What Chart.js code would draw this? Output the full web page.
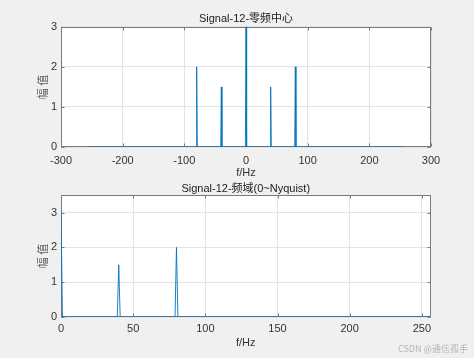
<!DOCTYPE html>
<html><head><meta charset="utf-8">
<script src="https://cdn.jsdelivr.net/npm/chart.js@4/dist/chart.umd.min.js"></script>
<style>
html,body{margin:0;padding:0;background:#f0f0f0;width:474px;height:358px;overflow:hidden;position:relative}
.c{position:absolute;left:0;width:474px}
#wm{position:absolute;right:6px;top:342px;font:9px 'Noto Sans CJK SC',sans-serif;color:#b5b5b5;white-space:nowrap}
</style></head><body>
<div class="c" style="top:0;height:180px"><canvas id="topChart" width="474" height="180"></canvas></div>
<div class="c" style="top:180px;height:178px"><canvas id="botChart" width="474" height="178"></canvas></div>
<div id="wm">CSDN @通信孤手</div>
<script>
// ---- data ----
const topFreqs = [-256, -81, -80, -79, -41, -40, -39, -1, 0, 1, 39, 40, 41, 79, 80, 81, 255];
const topAmps  = [0, 0, 2, 0, 0, 1.5, 0, 0, 3, 0, 0, 1.5, 0, 0, 2, 0, 0];
const topXTicks = [-300, -200, -100, 0, 100, 200, 300];
const topYTicks = [0, 1, 2, 3];

const botFreqs = [0, 1, 39, 40, 41, 79, 80, 81, 256];
const botAmps  = [3, 0, 0, 1.5, 0, 0, 2, 0, 0];
const botXTicks = [0, 50, 100, 150, 200, 250];
const botYTicks = [0, 1, 2, 3];

const topTitle = 'Signal-12-零频中心';
const botTitle = 'Signal-12-频域(0~Nyquist)';
const xLabel = 'f/Hz';
const yLabel = '幅 值';

// ---- rendering ----
const FONT = "'Liberation Sans', 'Noto Sans CJK SC', sans-serif";
const LINE = '#0072BD';
const TXT = '#333333';

const frame = {
  id: 'frame',
  beforeDraw(chart) {
    const {ctx, chartArea: a} = chart;
    ctx.save();
    ctx.fillStyle = '#ffffff';
    ctx.fillRect(a.left, a.top, a.width, a.height);
    ctx.restore();
  },
  beforeDatasetsDraw(chart) {
    const {ctx, chartArea: a, scales} = chart;
    ctx.save();
    ctx.strokeStyle = '#7a7a7a';
    ctx.lineWidth = 1;
    const L = Math.round(a.left) + 0.5, R = Math.round(a.right) - 0.5;
    const T = Math.round(a.top) + 0.5, B = Math.round(a.bottom) - 0.5;
    ctx.strokeRect(L, T, R - L, B - T);
    ctx.beginPath();
    scales.x.ticks.forEach(t => {
      const px = Math.round(scales.x.getPixelForValue(t.value)) + 0.5;
      ctx.moveTo(px, B); ctx.lineTo(px, B - 3);
      ctx.moveTo(px, T); ctx.lineTo(px, T + 3);
    });
    scales.y.ticks.forEach(t => {
      const py = Math.round(scales.y.getPixelForValue(t.value)) + 0.5;
      ctx.moveTo(L, py); ctx.lineTo(L + 3, py);
      ctx.moveTo(R, py); ctx.lineTo(R - 3, py);
    });
    ctx.stroke();
    ctx.restore();
  }
};

function makeChart(id, freqs, amps, xTicks, yTicks, xr, yr, title, g) {
  return new Chart(document.getElementById(id), {
    type: 'line',
    data: {
      datasets: [{
        data: freqs.map((f, i) => ({x: f, y: amps[i]})),
        borderColor: LINE,
        borderWidth: 0.9,
        pointRadius: 0,
        tension: 0,
        fill: false
      }]
    },
    options: {
      responsive: false,
      animation: false,
      devicePixelRatio: 1,
      layout: {padding: {left: 0, right: g.right, top: 0, bottom: 0}},
      plugins: {
        legend: {display: false},
        tooltip: {enabled: false},
        title: {
          display: true, text: title, color: '#1a1a1a',
          fullSize: false,
          font: {family: FONT, size: 11, weight: 'normal'},
          padding: {top: g.titleTop, bottom: g.titleBottom}
        }
      },
      scales: {
        x: {
          type: 'linear', min: xr[0], max: xr[1],
          afterBuildTicks: s => { s.ticks = xTicks.map(v => ({value: v})); },
          afterFit: s => { s.height = g.xH; },
          grid: {color: '#e3e3e3', drawTicks: false},
          border: {display: false},
          ticks: {color: TXT, font: {family: FONT, size: 11}, padding: g.xTickPad, maxRotation: 0, autoSkip: false},
          title: {display: true, text: xLabel, color: TXT, font: {family: FONT, size: 11}, padding: {top: 0, bottom: g.xTitlePad}}
        },
        y: {
          type: 'linear', min: yr[0], max: yr[1],
          afterBuildTicks: s => { s.ticks = yTicks.map(v => ({value: v})); },
          afterFit: s => { s.width = g.yW; },
          grid: {color: '#e3e3e3', drawTicks: false},
          border: {display: false},
          ticks: {color: TXT, font: {family: FONT, size: 11}, padding: 4},
          title: {display: true, text: yLabel, color: '#555', font: {family: "'Noto Sans CJK SC', sans-serif", size: 11}, padding: {top: 36, bottom: 0}}
        }
      }
    },
    plugins: [frame]
  });
}

makeChart('topChart', topFreqs, topAmps, topXTicks, topYTicks, [-300, 300], [0, 3], topTitle,
  {right: 43, titleTop: 12, titleBottom: 1.6, xH: 33, xTitlePad: 0, xTickPad: 7, yW: 61});
makeChart('botChart', botFreqs, botAmps, botXTicks, botYTicks, [0, 256], [0, 3.5], botTitle,
  {right: 43.5, titleTop: 2, titleBottom: 0, xH: 41, xTitlePad: 8, xTickPad: 5, yW: 61});
</script>
</body></html>
